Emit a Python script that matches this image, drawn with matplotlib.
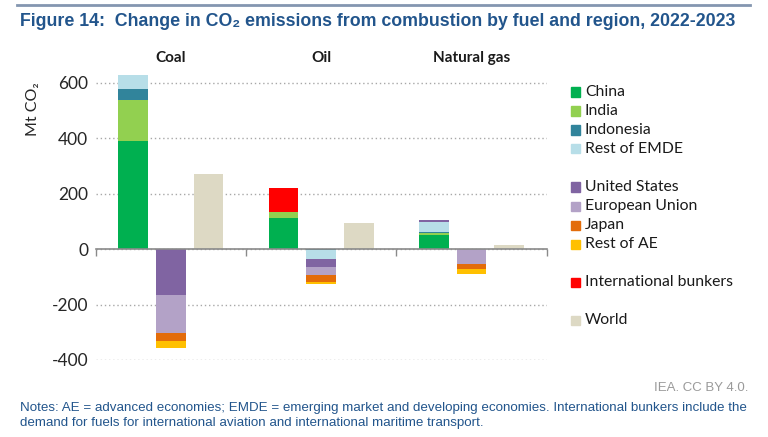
import numpy as np
import matplotlib.pyplot as plt
from matplotlib.patches import Rectangle
from matplotlib.lines import Line2D

# ── data (Mt CO2, change 2022→2023) ─────────────────────────
fuels = ["Coal", "Oil", "Natural gas"]
regions = ["China", "India", "Indonesia", "Rest of EMDE",
           "United States", "European Union", "Japan", "Rest of AE",
           "International bunkers"]
coal = [390, 147, 41, 51, -166, -138, -28, -26, 0]
oil = [113, 22, -4, -33, -29, -28, -26, -7, 85]
gas = [51, 7, 4, 36, 6, -54, -18, -17, 0]
world = [270, 95, 15]
yticks = [-400, -200, 0, 200, 400, 600]

colors = ["#00B050", "#92D050", "#31849B", "#B7DEE8",
          "#8064A2", "#B3A2C7", "#E36C0A", "#FFC000", "#FF0000"]
world_color = "#DDD9C4"
blue = "#22558C"

W, H = 768, 437
chart_font = ["Lato", "DejaVu Sans"]
note_font = ["Liberation Sans", "DejaVu Sans"]
plt.rcParams["font.family"] = chart_font


def fx(x):
    return x / W


def fy(y):
    return 1 - y / H


fig = plt.figure(figsize=(W / 100, H / 100), dpi=100)
ax = fig.add_axes([fx(95.7), fy(360), 451 / W, (360 - 71.6) / H])

# increases stacked in one bar, decreases in the next, world net in the third
for g, vals in enumerate([coal, oil, gas]):
    up, down = 0, 0
    for r, v in enumerate(vals):
        if v > 0:
            ax.bar(4 * g + 1, v, bottom=up, width=0.79, color=colors[r], zorder=2)
            up += v
        elif v < 0:
            ax.bar(4 * g + 2, v, bottom=down, width=0.79, color=colors[r], zorder=2)
            down += v
    ax.bar(4 * g + 3, world[g], width=0.79, color=world_color, zorder=2)
    ax.text(4 * g + 2, 689, fuels[g], ha="center", va="center",
            fontsize=11, fontweight="bold", color="#1a1a1a")

ax.set_xlim(0, 12)
ax.set_ylim(-400, 640)
ax.set_yticks(yticks)
ax.set_yticklabels([str(t) for t in yticks])
ax.yaxis.grid(True, ls=(0, (1, 2)), color="#a8a8a8", lw=1, zorder=0)
for s in ["top", "right", "left"]:
    ax.spines[s].set_visible(False)
ax.spines["bottom"].set_position(("data", 0))
ax.spines["bottom"].set_color("#8a8a8a")
ax.spines["bottom"].set_linewidth(1.2)
ax.spines["bottom"].set_zorder(3)
ax.set_xticks([0, 4, 8, 12])
ax.set_xticklabels([])
ax.tick_params(axis="x", direction="out", length=5, color="#8a8a8a", width=1)
ax.tick_params(axis="y", length=0, pad=5.5, labelsize=12.5, labelcolor="#262626")

fig.text(fx(33), fy(109), "Mt CO₂", rotation=90, ha="center", va="center",
         fontsize=11.5, color="#262626")

# legend, laid out by hand to match the spacing of the original
groups = [[0, 1, 2, 3], [4, 5, 6, 7], [8], [None]]
row = 92
for grp in groups:
    for r in grp:
        name = "World" if r is None else regions[r]
        col = world_color if r is None else colors[r]
        fig.add_artist(Rectangle((fx(571), fy(row + 4.5)), 9 / W, 9 / H,
                                 transform=fig.transFigure, color=col))
        fig.text(fx(585), fy(row), name, ha="left", va="center",
                 fontsize=11.3, color="#1a1a1a")
        row += 19
    row += 19

# header and footer
fig.add_artist(Line2D([fx(17), fx(750)], [fy(5), fy(5)], color="#8496B0", lw=2,
                      transform=fig.transFigure))
fig.text(fx(20), fy(22), "Figure 14:  Change in CO₂ emissions from combustion by fuel and region, 2022-2023",
         ha="left", va="center", fontsize=12.8, fontweight="bold", color=blue,
         family=note_font)
fig.text(fx(748), fy(388), "IEA. CC BY 4.0.", ha="right", va="center",
         fontsize=9.5, color="#9a9a9a", family=note_font)
fig.text(fx(20), fy(408), "Notes: AE = advanced economies; EMDE = emerging market and developing economies. "
         "International bunkers include the", ha="left", va="center",
         fontsize=9.6, color=blue, family=note_font)
fig.text(fx(20), fy(423), "demand for fuels for international aviation and international maritime transport.",
         ha="left", va="center", fontsize=9.6, color=blue, family=note_font)

fig.savefig("out.png", dpi=100)
